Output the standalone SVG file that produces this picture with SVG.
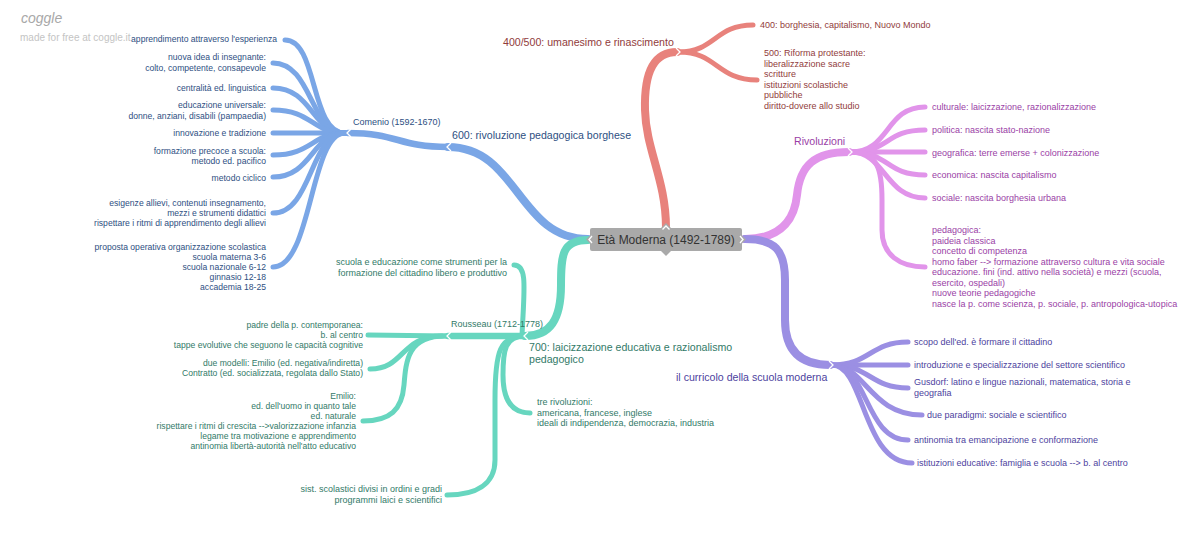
<svg xmlns="http://www.w3.org/2000/svg" width="1200" height="533" viewBox="0 0 1200 533">
<style>
text{font-family:"Liberation Sans",Arial,sans-serif;font-size:9px}
.l1{font-size:10.6px}
.c{font-size:12px;fill:#333}
.e{text-anchor:end}
.s{font-size:8.6px}
.tr{fill:#913c3c}.tb{fill:#2e4f82}.tt{fill:#327a68}.tp{fill:#9a3ea6}.tv{fill:#4d3f9e}
path{fill:none;stroke-linecap:round}
.r{stroke:#e8827c}.b{stroke:#7aa6e6}.t{stroke:#67d6bf}.p{stroke:#e194ea}.v{stroke:#9b8fe3}
.k{stroke-width:8}.m{stroke-width:6.5}.f{stroke-width:5}
.n{fill:none;stroke:#fff;stroke-width:1.3}
</style>
<g id="watermark">
<text x="21" y="23" style="font-size:14px;font-style:italic;fill:#a8a8a8">coggle</text>
<text x="20" y="41" style="font-size:10px;fill:#c4c4c4">made for free at coggle.it</text>
</g>
<g id="connectors">
<!-- red -->
<path class="r k" d="M666,228 C666,180 646,150 645,110 C644,70 655,52 677,52"/>
<path class="r f" d="M679,52 C715,52 715,25 753,25"/>
<path class="r f" d="M679,52 C717,52 717,80 757,80"/>
<!-- blue -->
<path class="b k" d="M588,239 C518,239 518,147 448,147"/>
<path class="b m" d="M448,147 C398,147 398,133 348,133"/>
<path class="b f" d="M345,133 C310,133 318,40 285,40"/>
<path class="b f" d="M345,133 C310,133 312,63 273,63"/>
<path class="b f" d="M345,133 C312,133 312,88 273,88"/>
<path class="b f" d="M345,133 C312,133 312,110 273,110"/>
<path class="b f" d="M345,133 L273,133"/>
<path class="b f" d="M345,133 C312,133 312,155 273,155"/>
<path class="b f" d="M345,133 C312,133 312,177 273,177"/>
<path class="b f" d="M345,133 C310,133 312,213 273,213"/>
<path class="b f" d="M345,133 C310,133 312,267 273,267"/>
<!-- teal -->
<path class="t k" d="M588,240 C562,240 561,255 561,285 C561,320 550,336 525,336"/>
<path class="t m" d="M525,336 L448,336"/>
<path class="t f" d="M522,336 C524,290 528,265 514,265"/>
<path class="t f" d="M525,336 C505,336 503,350 503,375 C503,400 512,413 530,413"/>
<path class="t f" d="M525,336 C500,336 495,350 495,400 L495,460 C495,485 475,495 447,495"/>
<path class="t f" d="M448,336 L368,335"/>
<path class="t f" d="M442,336 C400,336 405,369 370,369"/>
<path class="t f" d="M445,336 C408,336 406,360 404,385 C402,410 390,421 363,421"/>
<!-- pink -->
<path class="p k" d="M745,239 C785,239 795,215 797,195 C800,165 815,152 849,152"/>
<path class="p f" d="M851,152 C890,152 885,107 925,107"/>
<path class="p f" d="M851,152 C890,152 885,130 925,130"/>
<path class="p f" d="M851,152 L925,152"/>
<path class="p f" d="M851,152 C890,152 885,175 925,175"/>
<path class="p f" d="M851,152 C885,152 885,198 925,198"/>
<path class="p f" d="M851,152 C878,152 882,170 882,200 L882,230 C882,255 900,267 925,267"/>
<!-- purple -->
<path class="v k" d="M745,239 C775,239 785,250 785,280 L785,320 C785,350 800,365 830,365"/>
<path class="v f" d="M832,365 C870,365 870,342 908,342"/>
<path class="v f" d="M832,365 L908,365"/>
<path class="v f" d="M832,365 C870,365 870,388 908,388"/>
<path class="v f" d="M832,365 C865,365 870,415 922,415"/>
<path class="v f" d="M832,365 C868,365 865,440 908,440"/>
<path class="v f" d="M832,365 C865,365 862,463 912,463"/>
<!-- notches -->
<polyline class="n" points="676,48 680,52 676,56"/>
<polyline class="n" points="451,143 447,147 451,151"/>
<polyline class="n" points="351,129 347,133 351,137"/>
<polyline class="n" points="528,332 524,336 528,340"/>
<polyline class="n" points="451,332 447,336 451,340"/>
<polyline class="n" points="848,148 852,152 848,156"/>
<polyline class="n" points="829,361 833,365 829,369"/>
</g>
<g id="center">
<polygon points="666,223 671,228 661,228" fill="#a9a9a9"/>
<polygon points="666,256 671,251 661,251" fill="#a9a9a9"/>
<polygon points="586,239.5 591,234.5 591,244.5" fill="#a9a9a9"/>
<polygon points="746,239.5 741,234.5 741,244.5" fill="#a9a9a9"/>
<rect x="590" y="228" width="152" height="23" rx="2" fill="#a9a9a9"/>
<text class="c" x="666" y="244" text-anchor="middle">Età Moderna (1492-1789)</text>
<polyline class="n" points="592,236 589,239.5 592,243"/>
<polyline class="n" points="740,236 743,239.5 740,243"/>
<polyline class="n" points="662.5,229.5 666,226 669.5,229.5"/>
</g>
<g id="umanesimo">
<text class="l1 tr" x="503" y="46">400/500: umanesimo e rinascimento</text>
</g>
<g id="borghesia"><text class="tr" x="760" y="28">400: borghesia, capitalismo, Nuovo Mondo</text></g>
<g id="riforma">
<text class="tr" x="764" y="56">500: Riforma protestante:</text>
<text class="tr" x="764" y="66.5">liberalizzazione sacre</text>
<text class="tr" x="764" y="77">scritture</text>
<text class="tr" x="764" y="87.5">istituzioni scolastiche</text>
<text class="tr" x="764" y="98">pubbliche</text>
<text class="tr" x="764" y="108.5">diritto-dovere allo studio</text>
</g>
<g id="seicento"><text class="l1 tb" x="452" y="139">600: rivoluzione pedagogica borghese</text></g>
<g id="comenio"><text class="tb" x="353" y="125">Comenio (1592-1670)</text></g>
<g id="c1"><text class="tb e s" x="277" y="42">apprendimento attraverso l'esperienza</text></g>
<g id="c2"><text class="tb e s" x="266" y="60">nuova idea di insegnante:</text><text class="tb e s" x="266" y="71">colto, competente, consapevole</text></g>
<g id="c3"><text class="tb e s" x="266" y="91">centralità ed. linguistica</text></g>
<g id="c4"><text class="tb e s" x="266" y="108">educazione universale:</text><text class="tb e s" x="266" y="119">donne, anziani, disabili (pampaedia)</text></g>
<g id="c5"><text class="tb e s" x="266" y="136">innovazione e tradizione</text></g>
<g id="c6"><text class="tb e s" x="266" y="154">formazione precoce a scuola:</text><text class="tb e s" x="266" y="164">metodo ed. pacifico</text></g>
<g id="c7"><text class="tb e s" x="266" y="181">metodo ciclico</text></g>
<g id="c8"><text class="tb e s" x="266" y="206">esigenze allievi, contenuti insegnamento,</text><text class="tb e s" x="266" y="216">mezzi e strumenti didattici</text><text class="tb e s" x="266" y="226">rispettare i ritmi di apprendimento degli allievi</text></g>
<g id="c9"><text class="tb e s" x="266" y="250">proposta operativa organizzazione scolastica</text><text class="tb e s" x="266" y="260">scuola materna 3-6</text><text class="tb e s" x="266" y="270">scuola nazionale 6-12</text><text class="tb e s" x="266" y="280">ginnasio 12-18</text><text class="tb e s" x="266" y="290">accademia 18-25</text></g>
<g id="settecento"><text class="l1 tt" x="529" y="351">700: laicizzazione educativa e razionalismo</text><text class="l1 tt" x="529" y="363">pedagogico</text></g>
<g id="rousseau"><text class="tt" x="451" y="327">Rousseau (1712-1778)</text></g>
<g id="scuola"><text class="tt e" x="507" y="265">scuola e educazione come strumenti per la</text><text class="tt e" x="507" y="276">formazione del cittadino libero e produttivo</text></g>
<g id="trerivoluzioni"><text class="tt" x="537" y="405">tre rivoluzioni:</text><text class="tt" x="537" y="415.5">americana, francese, inglese</text><text class="tt" x="537" y="426">ideali di indipendenza, democrazia, industria</text></g>
<g id="sistemi"><text class="tt e" x="442" y="492">sist. scolastici divisi in ordini e gradi</text><text class="tt e" x="442" y="503">programmi laici e scientifici</text></g>
<g id="padre"><text class="tt e s" x="363" y="328">padre della p. contemporanea:</text><text class="tt e s" x="363" y="338">b. al centro</text><text class="tt e s" x="363" y="348">tappe evolutive che seguono le capacità cognitive</text></g>
<g id="modelli"><text class="tt e s" x="363" y="366">due modelli: Emilio (ed. negativa/indiretta)</text><text class="tt e s" x="363" y="376">Contratto (ed. socializzata, regolata dallo Stato)</text></g>
<g id="emilio"><text class="tt e s" x="356" y="399">Emilio:</text><text class="tt e s" x="356" y="409">ed. dell'uomo in quanto tale</text><text class="tt e s" x="356" y="419">ed. naturale</text><text class="tt e s" x="356" y="429">rispettare i ritmi di crescita -->valorizzazione infanzia </text><text class="tt e s" x="356" y="439">legame tra motivazione e apprendimento</text><text class="tt e s" x="356" y="449">antinomia libertà-autorità nell'atto educativo</text></g>
<g id="rivoluzioni"><text class="l1 tp" x="794" y="145">Rivoluzioni</text></g>
<g id="p1"><text class="tp" x="932" y="110">culturale: laicizzazione, razionalizzazione</text></g>
<g id="p2"><text class="tp" x="932" y="133">politica: nascita stato-nazione</text></g>
<g id="p3"><text class="tp" x="932" y="155.5">geografica: terre emerse + colonizzazione</text></g>
<g id="p4"><text class="tp" x="932" y="178">economica: nascita capitalismo</text></g>
<g id="p5"><text class="tp" x="932" y="201">sociale: nascita borghesia urbana</text></g>
<g id="p6">
<text class="tp" x="932" y="233">pedagogica:</text>
<text class="tp" x="932" y="243.5">paideia classica</text>
<text class="tp" x="932" y="254">concetto di competenza</text>
<text class="tp" x="932" y="264.5">homo faber --> formazione attraverso cultura e vita sociale</text>
<text class="tp" x="932" y="275">educazione. fini (ind. attivo nella società) e mezzi (scuola,</text>
<text class="tp" x="932" y="285.5">esercito, ospedali)</text>
<text class="tp" x="932" y="296">nuove teorie pedagogiche</text>
<text class="tp" x="932" y="306.5">nasce la p. come scienza, p. sociale, p. antropologica-utopica</text>
</g>
<g id="curricolo"><text class="l1 tv" x="676" y="381">il curricolo della scuola moderna</text></g>
<g id="v1"><text class="tv" x="914" y="345">scopo dell'ed. è formare il cittadino</text></g>
<g id="v2"><text class="tv" x="914" y="368">introduzione e specializzazione del settore scientifico</text></g>
<g id="v3"><text class="tv" x="914" y="385">Gusdorf: latino e lingue nazionali, matematica, storia e</text><text class="tv" x="914" y="396">geografia</text></g>
<g id="v4"><text class="tv" x="927" y="418">due paradigmi: sociale e scientifico</text></g>
<g id="v5"><text class="tv" x="914" y="443">antinomia tra emancipazione e conformazione</text></g>
<g id="v6"><text class="tv" x="917" y="466">istituzioni educative: famiglia e scuola --> b. al centro</text></g>
</svg>
